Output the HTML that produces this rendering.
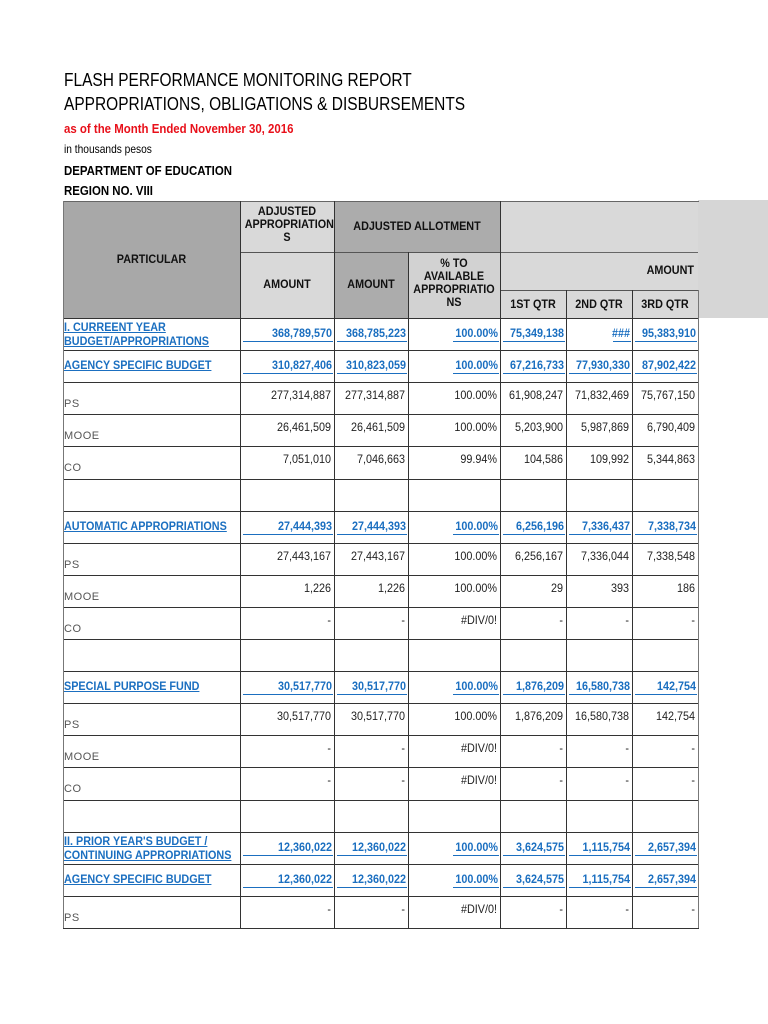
<!DOCTYPE html>
<html><head><meta charset="utf-8"><style>
body{margin:0;width:768px;height:1024px;background:#fff;position:relative;overflow:hidden;font-family:"Liberation Sans",Arial,sans-serif;}
.t{position:absolute;white-space:nowrap;transform-origin:0 50%;}
.c{position:absolute;box-sizing:border-box;}
.hd{position:absolute;font-weight:bold;font-size:12px;text-align:center;line-height:13px;color:#111;transform:scaleX(.9);}
.num{position:absolute;font-size:12px;white-space:nowrap;text-align:right;transform:scaleX(.9);transform-origin:100% 50%;color:#222;}
.lab{position:absolute;font-size:11px;color:#555;letter-spacing:.5px;}
.lk{color:#1b6fc0;font-weight:bold;}
.ul{position:absolute;height:1px;background:#1b6fc0;}
.vl{position:absolute;width:1px;background:#333;}
.hl{position:absolute;height:1px;background:#333;}
</style></head><body>
<div class="t" style="left:64px;top:70px;font-size:18px;transform:scaleX(.86);">FLASH PERFORMANCE MONITORING REPORT</div>
<div class="t" style="left:64px;top:94px;font-size:18px;transform:scaleX(.86);">APPROPRIATIONS, OBLIGATIONS &amp; DISBURSEMENTS</div>
<div class="t" style="left:64px;top:121px;font-size:13px;font-weight:bold;color:#e8101a;transform:scaleX(.88);">as of the Month Ended November 30, 2016</div>
<div class="t" style="left:64px;top:142px;font-size:12px;transform:scaleX(.85);">in thousands pesos</div>
<div class="t" style="left:64px;top:163px;font-size:13px;font-weight:bold;transform:scaleX(.88);">DEPARTMENT OF EDUCATION</div>
<div class="t" style="left:64px;top:183px;font-size:13px;font-weight:bold;transform:scaleX(.88);">REGION NO. VIII</div>

<div class="c" style="left:698px;top:200px;width:70px;height:118px;background:#d6d6d6"></div>
<div class="c" style="left:63px;top:202px;width:177px;height:116px;background:#a8a8a8"></div>
<div class="c" style="left:240px;top:202px;width:94px;height:116px;background:#d9d9d9"></div>
<div class="c" style="left:334px;top:202px;width:166px;height:50px;background:#acacac"></div>
<div class="c" style="left:334px;top:252px;width:74px;height:66px;background:#acacac"></div>
<div class="c" style="left:408px;top:252px;width:92px;height:66px;background:#d2d2d2"></div>
<div class="c" style="left:500px;top:202px;width:198px;height:116px;background:#d9d9d9"></div>

<div class="hd" style="left:240px;top:205px;width:94px;">ADJUSTED<br>APPROPRIATION<br>S</div>
<div class="hd" style="left:334px;top:220px;width:166px;">ADJUSTED ALLOTMENT</div>
<div class="hd" style="left:63px;top:253px;width:177px;">PARTICULAR</div>
<div class="hd" style="left:240px;top:278px;width:94px;">AMOUNT</div>
<div class="hd" style="left:334px;top:278px;width:74px;">AMOUNT</div>
<div class="hd" style="left:408px;top:257px;width:92px;">% TO<br>AVAILABLE<br>APPROPRIATIO<br>NS</div>
<div class="hd" style="left:560px;top:264px;width:134px;text-align:right;transform-origin:100% 50%">AMOUNT</div>
<div class="hd" style="left:500px;top:298px;width:66px;">1ST QTR</div>
<div class="hd" style="left:566px;top:298px;width:66px;">2ND QTR</div>
<div class="hd" style="left:632px;top:298px;width:66px;">3RD QTR</div>
<div id="g"></div>
<script>
(function(){
var L=[63,240,334,408,500,566,632,698];
var rows=[
["I. CURREENT YEAR|BUDGET/APPROPRIATIONS",1,["368,789,570","368,785,223","100.00%","75,349,138","###","95,383,910"]],
["AGENCY SPECIFIC BUDGET",1,["310,827,406","310,823,059","100.00%","67,216,733","77,930,330","87,902,422"]],
["PS",0,["277,314,887","277,314,887","100.00%","61,908,247","71,832,469","75,767,150"]],
["MOOE",0,["26,461,509","26,461,509","100.00%","5,203,900","5,987,869","6,790,409"]],
["CO",0,["7,051,010","7,046,663","99.94%","104,586","109,992","5,344,863"]],
["",0,null],
["AUTOMATIC APPROPRIATIONS",1,["27,444,393","27,444,393","100.00%","6,256,196","7,336,437","7,338,734"]],
["PS",0,["27,443,167","27,443,167","100.00%","6,256,167","7,336,044","7,338,548"]],
["MOOE",0,["1,226","1,226","100.00%","29","393","186"]],
["CO",0,["-","-","#DIV/0!","-","-","-"]],
["",0,null],
["SPECIAL PURPOSE FUND",1,["30,517,770","30,517,770","100.00%","1,876,209","16,580,738","142,754"]],
["PS",0,["30,517,770","30,517,770","100.00%","1,876,209","16,580,738","142,754"]],
["MOOE",0,["-","-","#DIV/0!","-","-","-"]],
["CO",0,["-","-","#DIV/0!","-","-","-"]],
["",0,null],
["II. PRIOR YEAR'S BUDGET /|CONTINUING APPROPRIATIONS",1,["12,360,022","12,360,022","100.00%","3,624,575","1,115,754","2,657,394"]],
["AGENCY SPECIFIC BUDGET",1,["12,360,022","12,360,022","100.00%","3,624,575","1,115,754","2,657,394"]],
["PS",0,["-","-","#DIV/0!","-","-","-"]]
];
var h='',y=318;
for(var i=0;i<rows.length;i++){
 var r=rows[i],yy=Math.round(y+i*32.1);
 if(r[1]){
  var p=r[0].split('|');
  if(p.length==2){h+='<div class="t lk" style="left:64px;top:'+(yy+2)+'px;font-size:12px;line-height:14px;text-decoration:underline;transform:scaleX(.9)">'+p[0]+'<br>'+p[1]+'</div>';}
  else h+='<div class="t lk" style="left:64px;top:'+(yy+8)+'px;font-size:12px;text-decoration:underline;transform:scaleX(.9)">'+p[0]+'</div>';
  for(var j=0;j<6;j++){var l=L[j+1],w=L[j+2]-l;
   var tx=r[2][j];
   h+='<div class="num lk" style="left:'+l+'px;width:'+(w-2)+'px;top:'+(yy+8)+'px">'+tx+'</div>';
   var ul=w-4;
   if(j==2)ul=46; if(tx=='###')ul=18;
   h+='<div class="ul" style="left:'+(l+w-1-ul)+'px;width:'+ul+'px;top:'+(yy+23)+'px"></div>';
  }
 } else {
  if(r[0])h+='<div class="lab" style="left:64px;top:'+(yy+16)+'px">'+r[0]+'</div>';
  if(r[2])for(var j=0;j<6;j++){var l=L[j+1],w=L[j+2]-l;
   h+='<div class="num" style="left:'+l+'px;width:'+(w-3)+'px;top:'+(yy+6)+'px">'+r[2][j]+'</div>';}
 }
 h+='<div class="hl" style="left:63px;width:636px;top:'+Math.round(y+(i+1)*32.1)+'px"></div>';
}
h+='<div class="hl" style="left:63px;width:636px;top:201px;background:#666"></div>';
h+='<div class="hl" style="left:63px;width:636px;top:318px"></div>';
h+='<div class="hl" style="left:240px;width:260px;top:252px;background:#555"></div>';
h+='<div class="hl" style="left:500px;width:198px;top:252px;background:#666"></div>';
h+='<div class="hl" style="left:500px;width:198px;top:290px;background:#555"></div>';
var bot=Math.round(318+19*32.1);
h+='<div class="vl" style="left:63px;top:201px;height:'+(bot-201)+'px;background:#777"></div>';
h+='<div class="vl" style="left:240px;top:201px;height:'+(bot-201)+'px"></div>';
h+='<div class="vl" style="left:334px;top:201px;height:'+(bot-201)+'px"></div>';
h+='<div class="vl" style="left:408px;top:252px;height:'+(bot-252)+'px"></div>';
h+='<div class="vl" style="left:500px;top:201px;height:'+(bot-201)+'px"></div>';
h+='<div class="vl" style="left:566px;top:290px;height:'+(bot-290)+'px"></div>';
h+='<div class="vl" style="left:632px;top:290px;height:'+(bot-290)+'px"></div>';
h+='<div class="vl" style="left:698px;top:290px;height:'+(bot-290)+'px;background:#777"></div>';
document.getElementById('g').innerHTML=h;
})();
</script>
</body></html>
